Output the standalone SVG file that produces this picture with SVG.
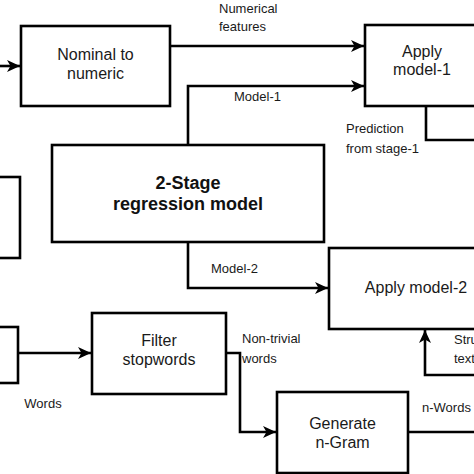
<svg xmlns="http://www.w3.org/2000/svg" width="474" height="474" viewBox="0 0 474 474">
  <style>
    .box { fill: #ffffff; stroke: #000000; stroke-width: 2.6; }
    .line { fill: none; stroke: #000000; stroke-width: 2.6; }
    .t { font-family: "Liberation Sans", Arial, sans-serif; font-size: 16px; fill: #1a1a1a; text-anchor: middle; }
    .b { font-family: "Liberation Sans", Arial, sans-serif; font-size: 18px; font-weight: bold; fill: #111111; text-anchor: middle; }
    .l { font-family: "Liberation Sans", Arial, sans-serif; font-size: 13px; fill: #1a1a1a; }
  </style>
  <defs>
    <marker id="arr" markerUnits="userSpaceOnUse" markerWidth="14" markerHeight="14" viewBox="0 0 14 14" refX="13" refY="7" orient="auto">
      <path d="M0,1 L13,7 L0,13 L3.5,7 Z" fill="#000000"/>
    </marker>
  </defs>
  <rect width="474" height="474" fill="#ffffff"/>

  <g id="connectors">
    <path class="line" d="M-5,66 L20,66" marker-end="url(#arr)"/>
    <path class="line" d="M170,46 L364,46" marker-end="url(#arr)"/>
    <path class="line" d="M188,145 L188,86 L364,86" marker-end="url(#arr)"/>
    <path class="line" d="M426,106 L426,140 L480,140"/>
    <path class="line" d="M188,242 L188,288 L328,288" marker-end="url(#arr)"/>
    <path class="line" d="M18,353 L91,353" marker-end="url(#arr)"/>
    <path class="line" d="M226,353 L240,353 L240,432 L276,432" marker-end="url(#arr)"/>
    <path class="line" d="M408,432 L480,432"/>
    <path class="line" d="M480,375 L425,375 L425,330" marker-end="url(#arr)"/>
    <text class="l" x="219" y="12.5">Numerical</text>
    <text class="l" x="219" y="30.5">features</text>
    <text class="l" x="234" y="100.5">Model-1</text>
    <text class="l" x="346" y="132.5">Prediction</text>
    <text class="l" x="346" y="152.5">from stage-1</text>
    <text class="l" x="211" y="272.5">Model-2</text>
    <text class="l" x="43" y="407.5" text-anchor="middle">Words</text>
    <text class="l" x="242" y="342.5">Non-trivial</text>
    <text class="l" x="242" y="362.5">words</text>
    <text class="l" x="422" y="411.5">n-Words</text>
    <text class="l" x="454" y="343.5">Structured</text>
    <text class="l" x="454" y="362.5">text</text>
  </g>

  <g id="node-nominal">
    <rect class="box" x="21" y="26" width="149" height="80"/>
    <text class="t" x="95.5" y="60">Nominal to</text>
    <text class="t" x="95.5" y="79">numeric</text>
  </g>
  <g id="node-apply1">
    <rect class="box" x="365" y="25" width="130" height="81"/>
    <text class="t" x="422" y="57">Apply</text>
    <text class="t" x="422" y="75">model-1</text>
  </g>
  <g id="node-2stage">
    <rect class="box" x="52" y="145" width="272" height="97"/>
    <text class="b" x="188" y="188.5">2-Stage</text>
    <text class="b" x="188" y="209.5">regression model</text>
  </g>
  <g id="node-apply2">
    <rect class="box" x="329" y="248" width="180" height="81"/>
    <text class="t" x="416" y="292.5">Apply model-2</text>
  </g>
  <g id="node-left1">
    <rect class="box" x="-20" y="177" width="40" height="81"/>
  </g>
  <g id="node-left2">
    <rect class="box" x="-20" y="327" width="38" height="56"/>
  </g>
  <g id="node-filter">
    <rect class="box" x="92" y="313" width="134" height="81"/>
    <text class="t" x="159" y="345.5">Filter</text>
    <text class="t" x="159" y="364.5">stopwords</text>
  </g>
  <g id="node-generate">
    <rect class="box" x="277" y="392" width="131" height="81"/>
    <text class="t" x="342.5" y="428.5">Generate</text>
    <text class="t" x="342.5" y="447.5">n-Gram</text>
  </g>
</svg>
